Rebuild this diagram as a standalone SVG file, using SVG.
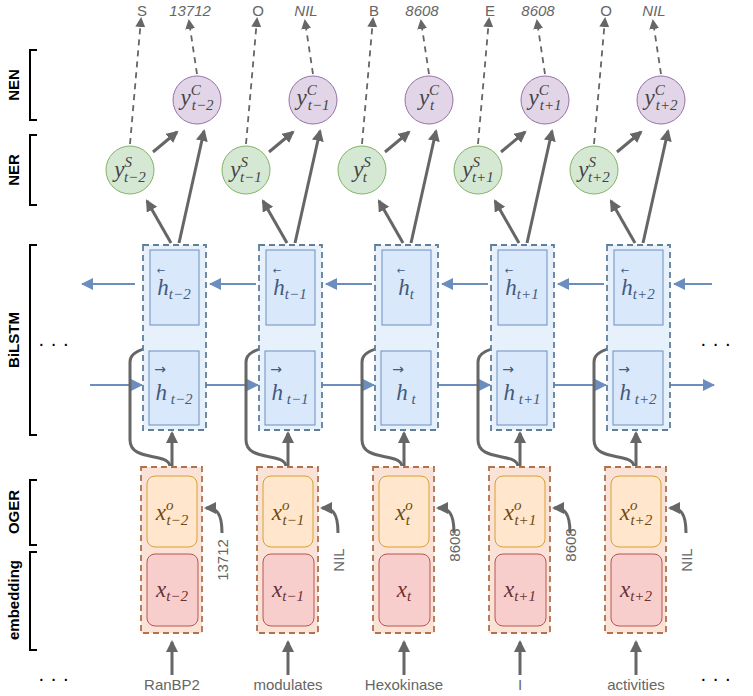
<svg xmlns="http://www.w3.org/2000/svg" width="753" height="696" viewBox="0 0 753 696">
<style>
.lab{font-family:"Liberation Sans",Arial,sans-serif;font-size:15px;fill:#666;text-anchor:middle}
.labi{font-family:"Liberation Sans",Arial,sans-serif;font-size:15px;fill:#666;text-anchor:middle;font-style:italic}
.m{font-family:"Liberation Serif","Times New Roman",serif;font-style:italic;font-size:23px;text-anchor:middle}
.sub{font-size:15px}
.ar{font-family:"DejaVu Sans",sans-serif;font-style:normal}
.side{font-family:"Liberation Sans",Arial,sans-serif;font-size:15px;font-weight:bold;fill:#000;text-anchor:middle}
.g{stroke:#666;stroke-width:3;fill:none;marker-end:url(#ag)}
.gd{stroke:#666;stroke-width:1.8;fill:none;stroke-dasharray:6,5;marker-end:url(#ag2)}
.b{stroke:#6c8ebf;stroke-width:2;fill:none;marker-end:url(#ab)}
.brk{stroke:#000;stroke-width:2;fill:none}
.dots{font-family:"Liberation Sans",Arial,sans-serif;font-size:20px;fill:#000}
</style>
<defs>
<marker id="ag" markerWidth="14" markerHeight="14" refX="10" refY="6" orient="auto" markerUnits="userSpaceOnUse"><path d="M0,0 L12,6 L0,12 Z" fill="#666"/></marker>
<marker id="ag2" markerWidth="12" markerHeight="12" refX="8" refY="5" orient="auto" markerUnits="userSpaceOnUse"><path d="M0,0 L10,5 L0,10 Z" fill="#666"/></marker>
<marker id="ab" markerWidth="14" markerHeight="14" refX="11" refY="6" orient="auto" markerUnits="userSpaceOnUse"><path d="M0,0 L12,6 L0,12 Z" fill="#6c8ebf"/></marker>
<g id="colshapes">
<rect x="143" y="245" width="63" height="185" fill="#e6f1fc" stroke="#5f7f9a" stroke-width="1.8" stroke-dasharray="6,4"/>
<rect x="150" y="250" width="49" height="75" fill="#dae8fc" stroke="#6c8ebf"/>
<rect x="149" y="351" width="50" height="74" fill="#dae8fc" stroke="#6c8ebf"/>
<rect x="141" y="467" width="61" height="166" fill="#fae2d6" stroke="#b0714e" stroke-width="1.8" stroke-dasharray="6,4"/>
<rect x="147" y="476" width="50" height="71" rx="8" fill="#ffe6cc" stroke="#d6a030"/>
<rect x="147" y="554" width="51" height="72" rx="8" fill="#f8cecc" stroke="#b85450"/>
<circle cx="130" cy="170" r="24" fill="#d5e8d4" stroke="#82b366"/>
<circle cx="197" cy="100" r="24" fill="#e1d5e7" stroke="#9673a6"/>
</g>
<g id="colarrows">
<path class="g" d="M171,243 L147,201"/>
<path class="g" d="M179,243 L204,131"/>
<path class="g" d="M153,152 L177,132"/>
<path class="gd" d="M130,144 L141,19"/>
<path class="gd" d="M197,74 L189,21"/>
<path class="g" d="M172,466 L172,433"/>
<path class="g" d="M170,466 C168,452 130,462 130,440 L130,362 C130,342 176,352 176,328"/>
<path class="g" d="M172,675 L172,642"/>
<path class="g" d="M222,533 C222,512 216,508 206,508"/>
</g>
</defs>
<g id="brackets">
<path class="brk" d="M37,50 L30,50 L30,120 L37,120"/>
<path class="brk" d="M37,135 L30,135 L30,205 L37,205"/>
<path class="brk" d="M37,245 L30,245 L30,435 L37,435"/>
<path class="brk" d="M37,480 L30,480 L30,545 L37,545"/>
<path class="brk" d="M37,552 L30,552 L30,650 L37,650"/>
<text class="side" transform="translate(19,85) rotate(-90)">NEN</text>
<text class="side" transform="translate(19,170) rotate(-90)">NER</text>
<text class="side" transform="translate(19,340) rotate(-90)">BiLSTM</text>
<text class="side" transform="translate(19,512) rotate(-90)">OGER</text>
<text class="side" transform="translate(19,600) rotate(-90)">embedding</text>
<text class="dots" x="38" y="350">· · ·</text>
<text class="dots" x="38" y="685">· · ·</text>
<text class="dots" x="700" y="350">· · ·</text>
<text class="dots" x="700" y="685">· · ·</text>
</g>
<g id="connectors">
<path class="b" d="M90,385 L142,385"/>
<path class="b" d="M206,385 L258,385"/>
<path class="b" d="M322,385 L374,385"/>
<path class="b" d="M438,385 L490,385"/>
<path class="b" d="M554,385 L606,385"/>
<path class="b" d="M670,385 L714,385"/>
<path class="b" d="M135,284 L82,284"/>
<path class="b" d="M256,284 L210,284"/>
<path class="b" d="M372,284 L326,284"/>
<path class="b" d="M488,284 L442,284"/>
<path class="b" d="M604,284 L558,284"/>
<path class="b" d="M712,284 L674,284"/>
<use href="#colarrows"/>
<use href="#colarrows" x="116"/>
<use href="#colarrows" x="232"/>
<use href="#colarrows" x="348"/>
<use href="#colarrows" x="464"/>
</g>
<g id="col1">
<use href="#colshapes"/>
<text class="m" x="130" y="177" fill="#444">y<tspan class="sub" dy="-10">S</tspan><tspan class="sub" dx="-8" dy="15">t−2</tspan></text>
<text class="m" x="197" y="105" fill="#444">y<tspan class="sub" dy="-10">C</tspan><tspan class="sub" dx="-9" dy="15">t−2</tspan></text>
<text class="m" x="174" y="295" fill="#445a7a">h<tspan class="sub" dy="4">t−2</tspan></text><text class="m ar" x="161" y="274" fill="#445a7a" style="font-size:10px">←</text>
<text class="m" x="174" y="400" fill="#445a7a">h<tspan class="sub" dy="4"> t−2</tspan></text><text class="m ar" x="160" y="374" fill="#445a7a" style="font-size:14px">→</text>
<text class="m" x="172" y="520" fill="#6b4a10">x<tspan class="sub" dy="-10">o</tspan><tspan class="sub" dx="-7" dy="15">t−2</tspan></text>
<text class="m" x="172" y="597" fill="#6b3030">x<tspan class="sub" dy="4">t−2</tspan></text>
<text class="lab" transform="translate(228,560) rotate(-90)">13712</text>
<text class="lab" x="172" y="690">RanBP2</text>
<text class="lab" x="142" y="16">S</text>
<text class="labi" x="190" y="16">13712</text>
</g>
<g id="col2" transform="translate(116,0)">
<use href="#colshapes"/>
<text class="m" x="130" y="177" fill="#444">y<tspan class="sub" dy="-10">S</tspan><tspan class="sub" dx="-8" dy="15">t−1</tspan></text>
<text class="m" x="197" y="105" fill="#444">y<tspan class="sub" dy="-10">C</tspan><tspan class="sub" dx="-9" dy="15">t−1</tspan></text>
<text class="m" x="174" y="295" fill="#445a7a">h<tspan class="sub" dy="4">t−1</tspan></text><text class="m ar" x="161" y="274" fill="#445a7a" style="font-size:10px">←</text>
<text class="m" x="174" y="400" fill="#445a7a">h<tspan class="sub" dy="4"> t−1</tspan></text><text class="m ar" x="160" y="374" fill="#445a7a" style="font-size:14px">→</text>
<text class="m" x="172" y="520" fill="#6b4a10">x<tspan class="sub" dy="-10">o</tspan><tspan class="sub" dx="-7" dy="15">t−1</tspan></text>
<text class="m" x="172" y="597" fill="#6b3030">x<tspan class="sub" dy="4">t−1</tspan></text>
<text class="lab" transform="translate(228,560) rotate(-90)">NIL</text>
<text class="lab" x="172" y="690">modulates</text>
<text class="lab" x="142" y="16">O</text>
<text class="labi" x="190" y="16">NIL</text>
</g>
<g id="col3" transform="translate(232,0)">
<use href="#colshapes"/>
<text class="m" x="130" y="177" fill="#444">y<tspan class="sub" dy="-10">S</tspan><tspan class="sub" dx="-8" dy="15">t</tspan></text>
<text class="m" x="197" y="105" fill="#444">y<tspan class="sub" dy="-10">C</tspan><tspan class="sub" dx="-9" dy="15">t</tspan></text>
<text class="m" x="174" y="295" fill="#445a7a">h<tspan class="sub" dy="4">t</tspan></text><text class="m ar" x="169" y="274" fill="#445a7a" style="font-size:10px">←</text>
<text class="m" x="174" y="400" fill="#445a7a">h<tspan class="sub" dy="4"> t</tspan></text><text class="m ar" x="166" y="374" fill="#445a7a" style="font-size:14px">→</text>
<text class="m" x="172" y="520" fill="#6b4a10">x<tspan class="sub" dy="-10">o</tspan><tspan class="sub" dx="-7" dy="15">t</tspan></text>
<text class="m" x="172" y="597" fill="#6b3030">x<tspan class="sub" dy="4">t</tspan></text>
<text class="lab" transform="translate(228,545) rotate(-90)">8608</text>
<text class="lab" x="172" y="690">Hexokinase</text>
<text class="lab" x="142" y="16">B</text>
<text class="labi" x="190" y="16">8608</text>
</g>
<g id="col4" transform="translate(348,0)">
<use href="#colshapes"/>
<text class="m" x="130" y="177" fill="#444">y<tspan class="sub" dy="-10">S</tspan><tspan class="sub" dx="-8" dy="15">t+1</tspan></text>
<text class="m" x="197" y="105" fill="#444">y<tspan class="sub" dy="-10">C</tspan><tspan class="sub" dx="-9" dy="15">t+1</tspan></text>
<text class="m" x="174" y="295" fill="#445a7a">h<tspan class="sub" dy="4">t+1</tspan></text><text class="m ar" x="161" y="274" fill="#445a7a" style="font-size:10px">←</text>
<text class="m" x="174" y="400" fill="#445a7a">h<tspan class="sub" dy="4"> t+1</tspan></text><text class="m ar" x="160" y="374" fill="#445a7a" style="font-size:14px">→</text>
<text class="m" x="172" y="520" fill="#6b4a10">x<tspan class="sub" dy="-10">o</tspan><tspan class="sub" dx="-7" dy="15">t+1</tspan></text>
<text class="m" x="172" y="597" fill="#6b3030">x<tspan class="sub" dy="4">t+1</tspan></text>
<text class="lab" transform="translate(228,545) rotate(-90)">8608</text>
<text class="lab" x="172" y="690">I</text>
<text class="lab" x="142" y="16">E</text>
<text class="labi" x="190" y="16">8608</text>
</g>
<g id="col5" transform="translate(464,0)">
<use href="#colshapes"/>
<text class="m" x="130" y="177" fill="#444">y<tspan class="sub" dy="-10">S</tspan><tspan class="sub" dx="-8" dy="15">t+2</tspan></text>
<text class="m" x="197" y="105" fill="#444">y<tspan class="sub" dy="-10">C</tspan><tspan class="sub" dx="-9" dy="15">t+2</tspan></text>
<text class="m" x="174" y="295" fill="#445a7a">h<tspan class="sub" dy="4">t+2</tspan></text><text class="m ar" x="161" y="274" fill="#445a7a" style="font-size:10px">←</text>
<text class="m" x="174" y="400" fill="#445a7a">h<tspan class="sub" dy="4"> t+2</tspan></text><text class="m ar" x="160" y="374" fill="#445a7a" style="font-size:14px">→</text>
<text class="m" x="172" y="520" fill="#6b4a10">x<tspan class="sub" dy="-10">o</tspan><tspan class="sub" dx="-7" dy="15">t+2</tspan></text>
<text class="m" x="172" y="597" fill="#6b3030">x<tspan class="sub" dy="4">t+2</tspan></text>
<text class="lab" transform="translate(228,560) rotate(-90)">NIL</text>
<text class="lab" x="172" y="690">activities</text>
<text class="lab" x="142" y="16">O</text>
<text class="labi" x="190" y="16">NIL</text>
</g>
</svg>
